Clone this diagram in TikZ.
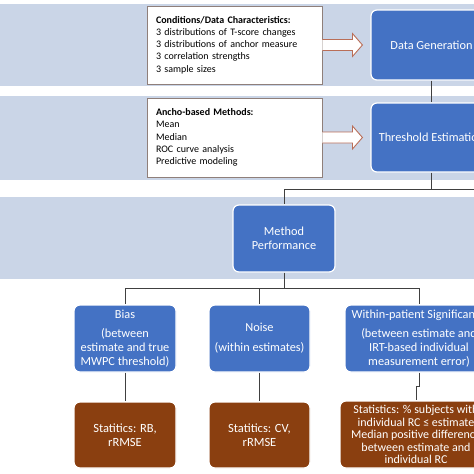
\documentclass[tikz,border=0pt]{standalone}
\usepackage{fontspec}
\setmainfont{Carlito}
\usetikzlibrary{calc}
\definecolor{band}{HTML}{CAD5E7}
\definecolor{bluebox}{HTML}{4472C4}
\definecolor{brownbox}{HTML}{8A3F10}
\definecolor{conn}{HTML}{404040}
\definecolor{frameb}{HTML}{8F7F7A}
\definecolor{arrowc}{HTML}{B96E58}
\tikzset{
  bandrect/.style={fill=band,draw=none},
  infobox/.style={draw=frameb,line width=0.9pt,fill=white,minimum width=175pt,text width=157pt,align=left,inner xsep=9pt,font=\fontsize{10}{12.2}\selectfont},
  bluenode/.style={fill=bluebox,draw=white,line width=1.2pt,rounded corners=6pt,text=white,align=center,font=\fontsize{12.3}{13.8}\selectfont,inner sep=2pt},
  brownnode/.style={fill=brownbox,draw=white,line width=1.2pt,rounded corners=6pt,text=white,align=center,inner sep=2pt},
  link/.style={draw=conn,line width=0.9pt},
  hollowarrow/.style={draw=arrowc,fill=white,line width=0.9pt,line join=miter}
}
\begin{document}
\begin{tikzpicture}[x=1pt,y=-1pt]
\useasboundingbox (0,0) rectangle (474,474);
\clip (0,0) rectangle (474,474);
\fill[white] (0,0) rectangle (474,474);
% bands
\fill[bandrect] (0,4) rectangle (480,86);
\fill[bandrect] (0,96) rectangle (480,180);
\fill[bandrect] (0,197) rectangle (480,279);
% info boxes
\node[infobox,minimum height=78pt] (cond) at (234.5,45) {\textbf{Conditions/Data Characteristics:}\\3 distributions of T-score changes\\3 distributions of anchor measure\\3 correlation strengths\\3 sample sizes};
\node[infobox,minimum height=79pt] (meth) at (234.5,137.5) {\textbf{Ancho-based Methods:}\\Mean\\Median\\ROC curve analysis\\Predictive modeling};
% blue nodes
\node[bluenode,minimum width=121pt,minimum height=70pt] (dg) at (431.5,45) {Data Generation};
\node[bluenode,minimum width=121pt,minimum height=69pt] (th) at (431.5,137.5) {Threshold Estimation};
\node[bluenode,minimum width=102pt,minimum height=67pt] (mp) at (284,238.5) {Method\\Performance};
\node[bluenode,minimum width=102pt,minimum height=67pt] (bias) at (125,338.5) {Bias\\[5pt](between\\estimate and true\\MWPC threshold)};
\node[bluenode,minimum width=101pt,minimum height=67pt] (noise) at (259.5,338.5) {Noise\\[6pt](within estimates)};
\node[bluenode,minimum width=148pt,minimum height=67pt] (within) at (419,338.5) {Within-patient Significance\\[5pt](between estimate and\\IRT-based individual\\measurement error)};
% brown nodes
\node[brownnode,minimum width=102pt,minimum height=66pt,font=\fontsize{12.5}{14}\selectfont] (bs) at (125,435) {Statitics: RB,\\rRMSE};
\node[brownnode,minimum width=101pt,minimum height=66pt,font=\fontsize{12.5}{14}\selectfont] (ns) at (259.5,435) {Statitics: CV,\\rRMSE};
\node[brownnode,minimum width=152pt,minimum height=67pt,font=\fontsize{12}{12.5}\selectfont] (ws) at (416,434.5) {Statistics: \% subjects with\\individual RC ≤ estimate\\Median positive difference\\between estimate and\\individual RC};
% hollow arrows
\draw[hollowarrow] (cond.east) ++(0,-5.5) -- ++(30,0) -- ++(0,-6) -- ++(10,11.5) -- ++(-10,11.5) -- ++(0,-6) -- ++(-30,0);
\draw[hollowarrow] (meth.east) ++(0,-5.5) -- ++(30,0) -- ++(0,-6) -- ++(10,11.5) -- ++(-10,11.5) -- ++(0,-6) -- ++(-30,0);
% connectors
\coordinate (offR) at (480,189);
\coordinate (jmp) at (284,288);
\draw[link] (dg.south) -- (th.north);
\draw[link] (th.south) -- (th.south |- offR) -| (mp.north);
\draw[link] (th.south |- offR) -- (offR);
\draw[link] (mp.south) -- (jmp) -| (bias.north);
\draw[link] (jmp) -| (noise.north);
\draw[link] (jmp) -| (within.north);
\draw[link] (bias.south) -- (bs.north);
\draw[link] (noise.south) -- (ns.north);
\draw[link] (within.south) -- ++(0,14) -| (ws.north);
\end{tikzpicture}
\end{document}
